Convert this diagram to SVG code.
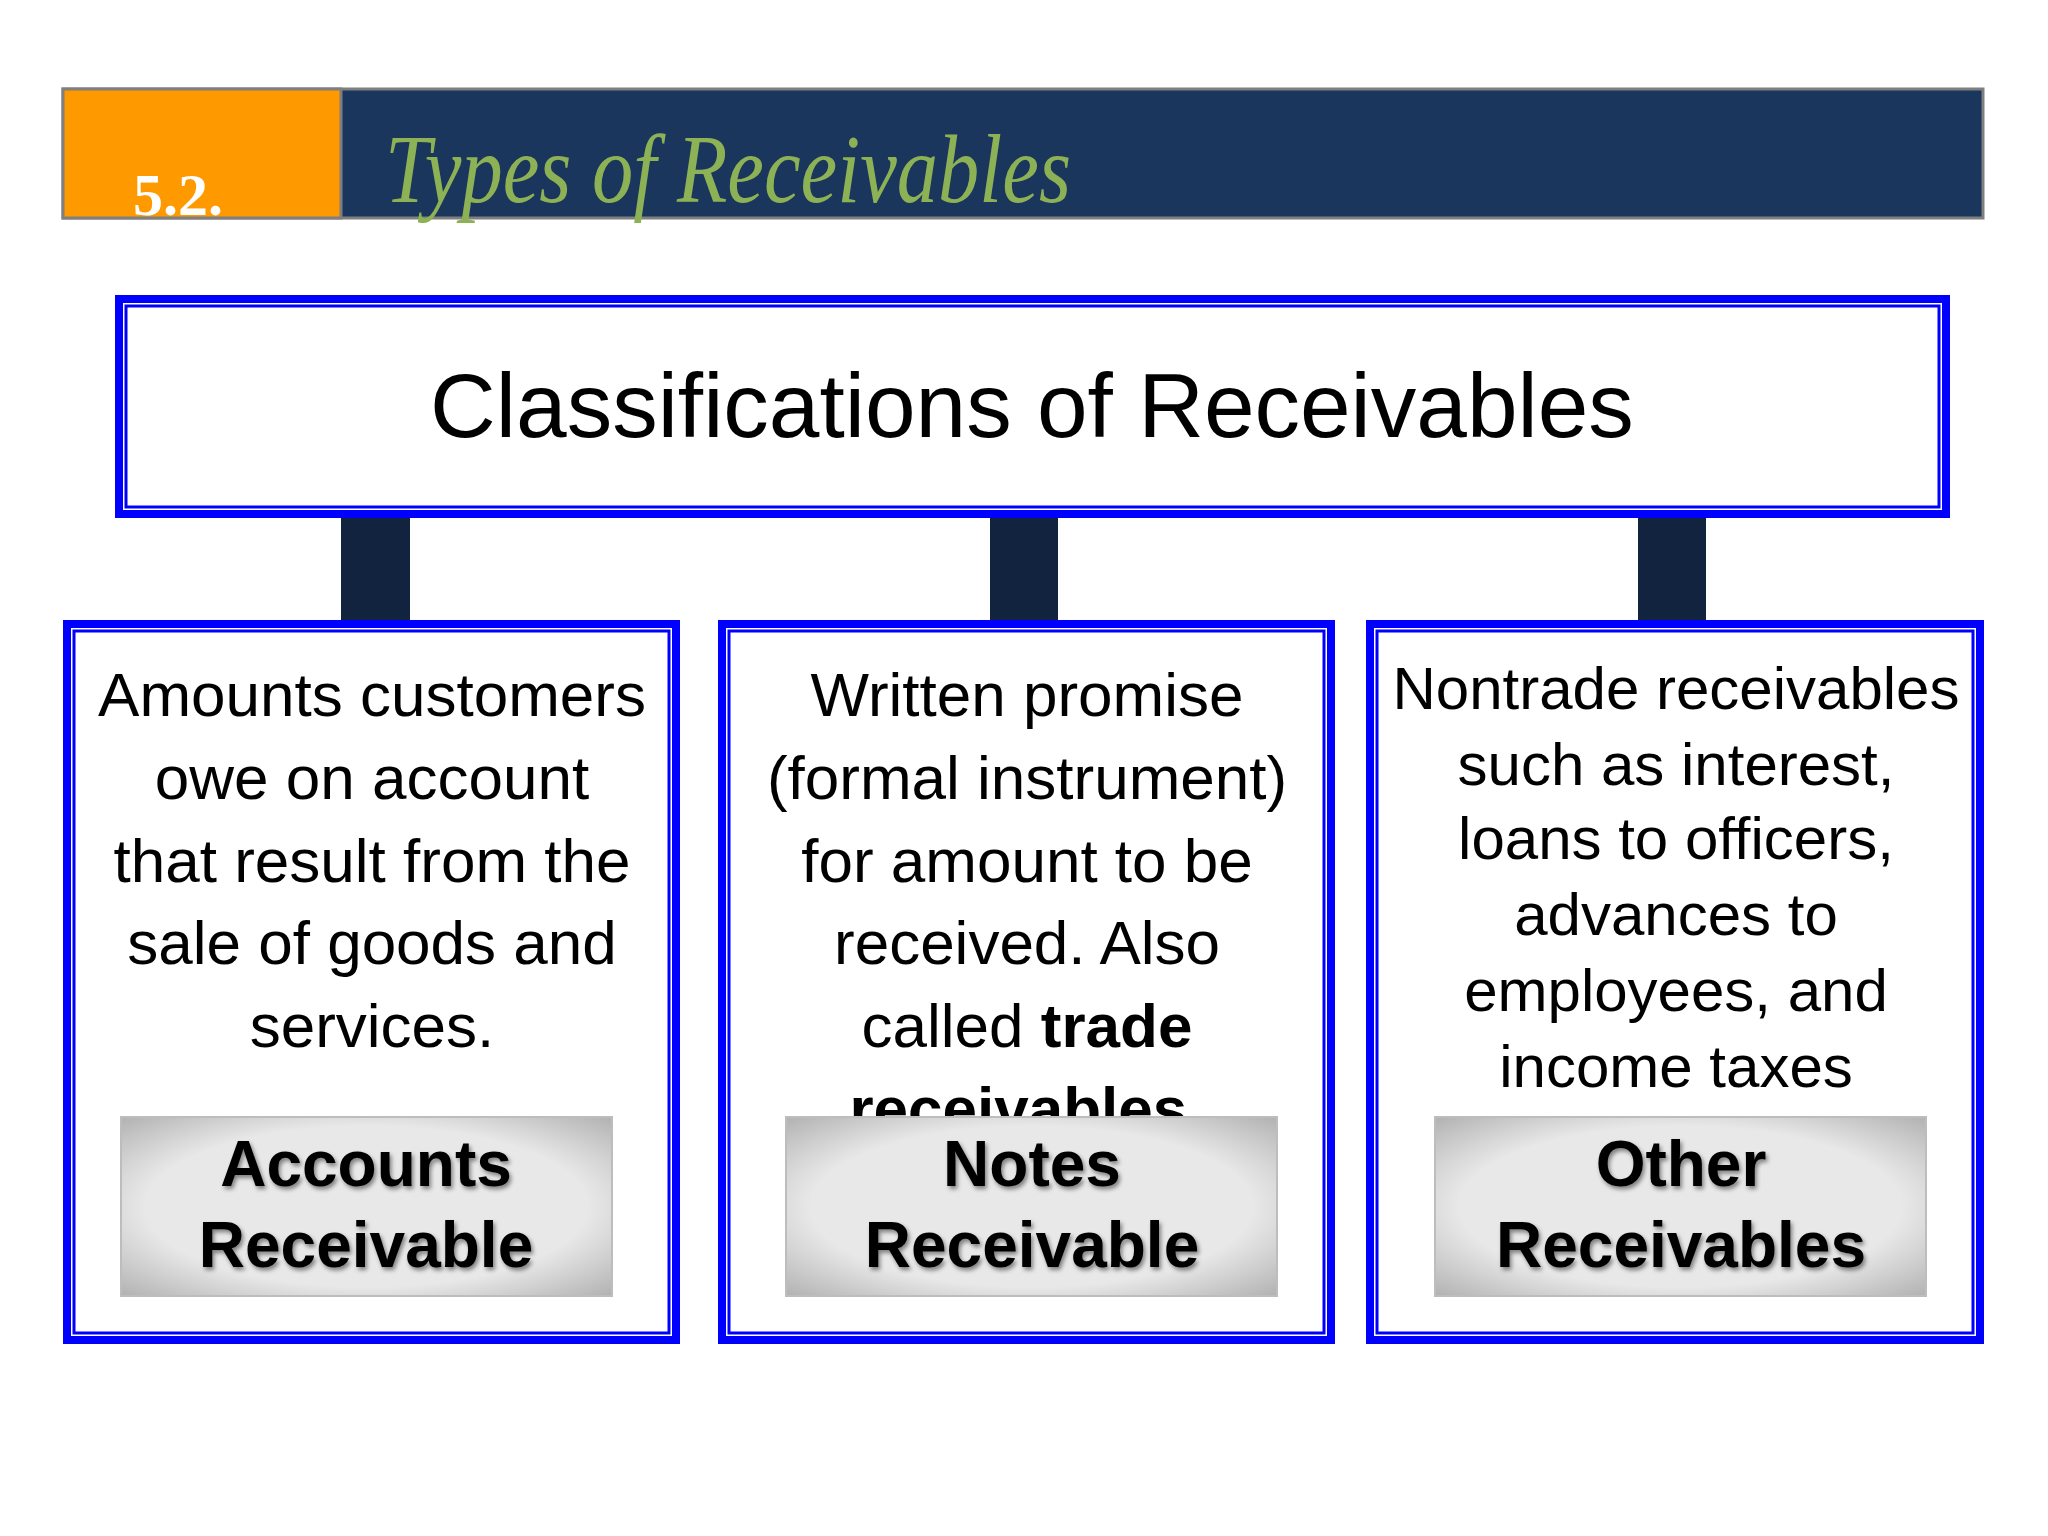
<svg xmlns="http://www.w3.org/2000/svg" width="2048" height="1536" viewBox="0 0 2048 1536">
<style>
.t{font-family:"Liberation Sans",Arial,sans-serif;fill:#000;text-anchor:middle}
.body{font-size:62px}
.lab{font-size:64px;font-weight:bold;filter:url(#sh)}
.outer{fill:#fff;stroke:#0000ff;stroke-width:8}
.inner{fill:none;stroke:#0000ff;stroke-width:3}
.conn{fill:#12233f}
.gray{fill:url(#rg);stroke:#bdbdbd;stroke-width:2}
</style>
<defs>
<radialGradient id="rg" cx="0.5" cy="0.5" r="0.75">
<stop offset="0.6" stop-color="#e8e8e8"/><stop offset="1" stop-color="#a8a8a8"/>
</radialGradient>
<filter id="sh" x="-10%" y="-10%" width="120%" height="130%">
<feDropShadow dx="2" dy="3" stdDeviation="2" flood-color="#000" flood-opacity="0.45"/>
</filter>
<clipPath id="cl"><rect x="700" y="1030" width="650" height="86"/></clipPath>
</defs>
<rect width="2048" height="1536" fill="#fff"/>
<g id="header">
<rect x="63" y="89" width="1920" height="129" fill="#1b365d" stroke="#7f7f7f" stroke-width="3"/>
<rect x="63" y="89" width="278" height="129" fill="#ff9900" stroke="#7f7f7f" stroke-width="3"/>
<text x="133" y="215" font-family="Liberation Serif,serif" font-weight="bold" font-size="60" fill="#fff">5.2.</text>
<text x="385" y="202" font-family="Liberation Serif,serif" font-style="italic" font-size="98" fill="#8db255" textLength="686" lengthAdjust="spacingAndGlyphs">Types of Receivables</text>
</g>
<g id="connectors">
<rect class="conn" x="341" y="518" width="69" height="102"/>
<rect class="conn" x="990" y="518" width="68" height="102"/>
<rect class="conn" x="1638" y="518" width="68" height="102"/>
</g>
<g id="top">
<rect class="outer" x="119" y="299" width="1827" height="215"/>
<rect class="inner" x="126" y="306" width="1813" height="201"/>
<text class="t" x="1032" y="437" font-size="91">Classifications of Receivables</text>
</g>
<g id="accounts">
<rect class="outer" x="67" y="624" width="609" height="716"/>
<rect class="inner" x="74" y="631" width="595" height="702"/>
<text class="t body" x="372" y="716">Amounts customers</text>
<text class="t body" x="372" y="799">owe on account</text>
<text class="t body" x="372" y="882">that result from the</text>
<text class="t body" x="372" y="964">sale of goods and</text>
<text class="t body" x="372" y="1047">services.</text>
<rect class="gray" x="121" y="1117" width="491" height="179"/>
<text class="t lab" x="366" y="1186" font-size="61">Accounts</text>
<text class="t lab" x="366" y="1267">Receivable</text>
</g>
<g id="notes">
<rect class="outer" x="722" y="624" width="609" height="716"/>
<rect class="inner" x="729" y="631" width="595" height="702"/>
<text class="t body" x="1027" y="716">Written promise</text>
<text class="t body" x="1027" y="799">(formal instrument)</text>
<text class="t body" x="1027" y="882">for amount to be</text>
<text class="t body" x="1027" y="964">received. Also</text>
<text class="t body" x="1027" y="1047">called <tspan font-weight="bold">trade</tspan></text>
<text class="t body" x="1027" y="1130" font-weight="bold" clip-path="url(#cl)">receivables.</text>
<rect class="gray" x="786" y="1117" width="491" height="179"/>
<text class="t lab" x="1032" y="1186">Notes</text>
<text class="t lab" x="1032" y="1267">Receivable</text>
</g>
<g id="other">
<rect class="outer" x="1370" y="624" width="610" height="716"/>
<rect class="inner" x="1377" y="631" width="596" height="702"/>
<text class="t" font-size="60" x="1676" y="709">Nontrade receivables</text>
<text class="t" font-size="60" x="1676" y="785">such as interest,</text>
<text class="t" font-size="60" x="1676" y="859">loans to officers,</text>
<text class="t" font-size="60" x="1676" y="935">advances to</text>
<text class="t" font-size="60" x="1676" y="1011">employees, and</text>
<text class="t" font-size="60" x="1676" y="1087">income taxes</text>
<rect class="gray" x="1435" y="1117" width="491" height="179"/>
<text class="t lab" x="1681" y="1186">Other</text>
<text class="t lab" x="1681" y="1267">Receivables</text>
</g>
</svg>
